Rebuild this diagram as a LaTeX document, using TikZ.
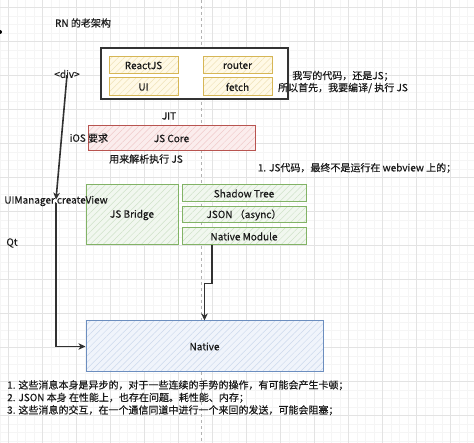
\documentclass[tikz,border=0pt]{standalone}
\usepackage{fontspec}
\setmainfont{Noto Sans CJK SC}[FakeBold=0.3]
\usetikzlibrary{patterns.meta,arrows.meta}
\definecolor{ink}{HTML}{1A1A1A}
\definecolor{yfill}{HTML}{FFF9E6}
\definecolor{yhatch}{HTML}{EFE2B8}
\definecolor{ystroke}{HTML}{D6B656}
\definecolor{rfill}{HTML}{FBEDED}
\definecolor{rhatch}{HTML}{EFCACA}
\definecolor{rstroke}{HTML}{B85450}
\definecolor{gfill}{HTML}{F1F7EF}
\definecolor{ghatch}{HTML}{CFE2C9}
\definecolor{gstroke}{HTML}{82B366}
\definecolor{bfill}{HTML}{F0F4FB}
\definecolor{bhatch}{HTML}{CCD9EC}
\definecolor{bstroke}{HTML}{6C8EBF}
\tikzset{
  lbl/.style={font=\fontsize{10}{12}\selectfont, text=ink, inner sep=0pt},
  hbox/.style n args={3}{draw=#3, line width=1pt, inner sep=0pt,
     preaction={fill=#1},
     pattern={Lines[angle=45,distance=4.5pt,line width=0.5pt]}, pattern color=#2,
     font=\fontsize{10}{12}\selectfont, text=ink},
  ybox/.style={hbox={yfill}{yhatch}{ystroke}},
  rbox/.style={hbox={rfill}{rhatch}{rstroke}},
  gbox/.style={hbox={gfill}{ghatch}{gstroke}},
  bbox/.style={hbox={bfill}{bhatch}{bstroke}},
  conn/.style={draw=ink!90, line width=1.6pt, -{Stealth[length=7pt,width=6.5pt,inset=2pt]}},
}
\begin{document}
\begin{tikzpicture}[x=1pt,y=-1pt]
\useasboundingbox (0,0) rectangle (474,443);
% grid
\begin{scope}
\clip (0,0) rectangle (474,443);
\foreach \i in {0,...,56} {
  \draw[black!4, line width=0.4pt] ({-0.2+8.5*\i},0) -- ({-0.2+8.5*\i},443);
  \draw[black!4, line width=0.4pt] (0,{-1.2+8.5*\i}) -- (474,{-1.2+8.5*\i});
}
\foreach \i in {0,...,14} {
  \draw[black!11, line width=0.6pt] ({8.3+34*\i},0) -- ({8.3+34*\i},443);
  \draw[black!11, line width=0.6pt] (0,{7.3+34*\i}) -- (474,{7.3+34*\i});
}
\draw[black!30, dashed, line width=0.6pt] (201,0) -- (201,443);
\fill[black] (0,32) circle (2);
\end{scope}

% title
\node[lbl] (title) at (83,23) {RN 的老架构};

% JS code box
\node[draw=black!80, line width=1.5pt, fill=white, minimum width=187pt, minimum height=51pt, inner sep=0pt] (outer) at (194.5,73.5) {};
\node[ybox, minimum width=69pt, minimum height=17pt] (react) at (143.5,65.5) {ReactJS};
\node[ybox, minimum width=69pt, minimum height=17pt] (router) at (237.5,65.5) {router};
\node[ybox, minimum width=69pt, minimum height=18pt] (ui) at (143.5,87) {UI};
\node[ybox, minimum width=69pt, minimum height=18pt] (fetch) at (237.5,87) {fetch};

\node[lbl, align=center] (note1) at (343,82) {我写的代码，还是JS；\\所以首先，我要编译/ 执行 JS};

\node[lbl] (div) at (67,74) {\textless div\textgreater};

% JS Core
\node[lbl] (jit) at (169,116) {JIT};
\node[rbox, minimum width=167pt, minimum height=25pt] (jscore) at (171.5,138.5) {JS Core};
\node[lbl, anchor=west] (ios) at (69.5,138) {iOS 要求};
\node[lbl] (parse) at (146,159) {用来解析执行 JS};
\node[lbl] (note2) at (357,168) {1. JS代码，最终不是运行在 webview 上的；};

% Bridge
\node[gbox, minimum width=92pt, minimum height=60pt] (bridge) at (132,215) {JS Bridge};
\node[gbox, minimum width=124pt, minimum height=17pt] (shadow) at (244,193.5) {Shadow Tree};
\node[gbox, minimum width=124pt, minimum height=16pt] (json) at (244,215) {JSON （async）};
\node[gbox, minimum width=124pt, minimum height=17pt] (nm) at (244,236.5) {Native Module};

% UIManager
\node[lbl] (uim) at (56,201) {UIManager.createView};
\node[lbl] (qt) at (12,243) {Qt};

% Native
\node[bbox, minimum width=237pt, minimum height=51pt] (native) at (204.5,346.5) {Native};

% connectors
\draw[conn] ([yshift=3pt]div.south) -- ([yshift=-4pt]uim.north);
\draw[conn] ([yshift=3pt]uim.south) |- (native.west);
\draw[conn] ([xshift=-32pt]nm.south) -- ++(0,38) -| (native.north);

% bottom notes
\node[lbl, anchor=north west, align=left, font=\fontsize{10}{12.5}\selectfont] (notes) at (7,380)
 {1. 这些消息本身是异步的，对于一些连续的手势的操作，有可能会产生卡顿；\\
  2. JSON 本身 在性能上，也存在问题。耗性能、内存；\\
  3. 这些消息的交互，在一个通信同道中进行一个来回的发送，可能会阻塞；};
\end{tikzpicture}
\end{document}
